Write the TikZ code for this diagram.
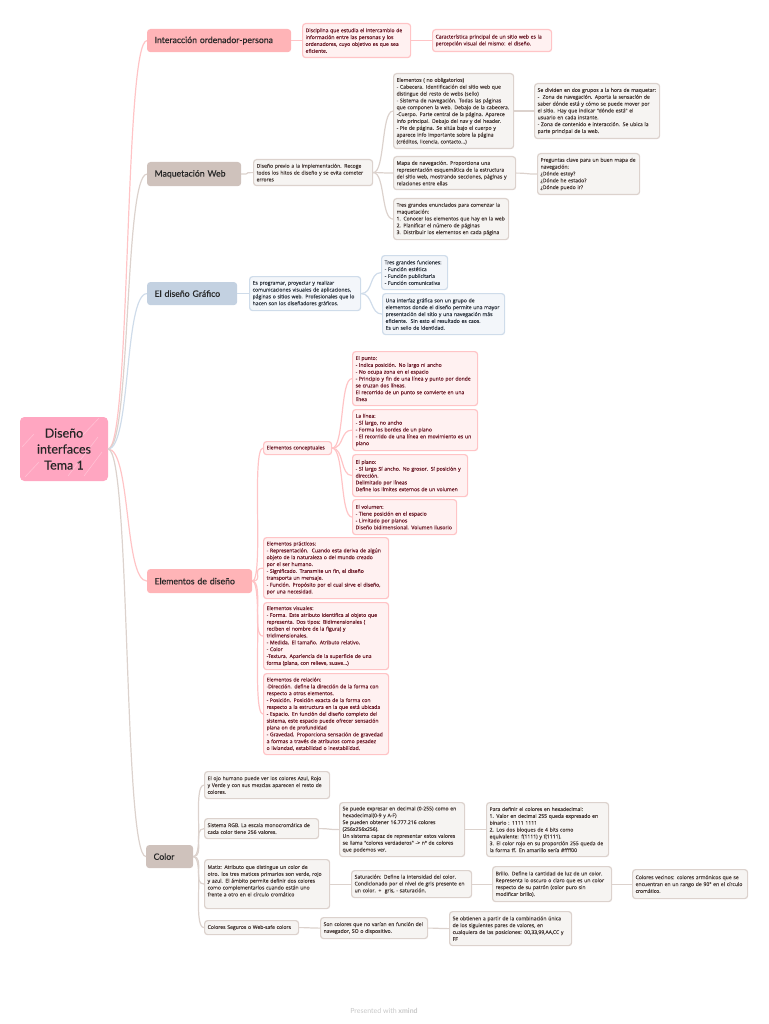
\documentclass[tikz,border=0pt]{standalone}
\usepackage{fontspec}
\setmainfont{Lato}
\newfontfamily\smallfont[FakeBold=0.12]{Open Sans}
\newfontfamily\bigfont[FakeBold=0.25]{Lato}
\definecolor{pinkfill}{HTML}{FFF1F1}
\definecolor{pinkline}{HTML}{FFC4C6}
\definecolor{pinktext}{HTML}{6E1F2C}
\definecolor{pinktopic}{HTML}{FFB4B7}
\definecolor{tanfill}{HTML}{F6F4F2}
\definecolor{tanline}{HTML}{DCD2CD}
\definecolor{tantext}{HTML}{4A3E3A}
\definecolor{tantopic}{HTML}{CFC2BC}
\definecolor{bluefill}{HTML}{F3F6FA}
\definecolor{blueline}{HTML}{CFDCEA}
\definecolor{bluetext}{HTML}{333A44}
\definecolor{bluetopic}{HTML}{C3D1E1}
\definecolor{rootfill}{HTML}{FFA6C1}
\tikzset{
  base/.style={rounded corners=3pt,line width=1.2pt,inner xsep=3pt,inner ysep=0pt,align=left},
  subpink/.style={base,draw=pinkline,fill=pinkfill,text=pinktext,font=\smallfont\fontsize{5.1pt}{6.85pt}\selectfont},
  subtan/.style={base,draw=tanline,fill=tanfill,text=tantext,font=\smallfont\fontsize{5.1pt}{6.85pt}\selectfont},
  subblue/.style={base,draw=blueline,fill=bluefill,text=bluetext,font=\smallfont\fontsize{5.1pt}{6.85pt}\selectfont},
  toppink/.style={base,inner xsep=7pt,draw=pinktopic,fill=pinktopic,text=black!85,font=\bigfont\fontsize{8.7pt}{11pt}\selectfont},
  toptan/.style={base,inner xsep=7pt,draw=tantopic,fill=tantopic,text=black!85,font=\bigfont\fontsize{8.7pt}{11pt}\selectfont},
  topblue/.style={base,inner xsep=7pt,draw=bluetopic,fill=bluetopic,text=black!85,font=\bigfont\fontsize{8.7pt}{11pt}\selectfont},
  rootbox/.style={rounded corners=4pt,draw=rootfill,fill=rootfill,line width=1pt,text=black!85,align=center,inner sep=0pt,font=\bigfont\fontsize{12.5pt}{16pt}\selectfont},
  linkpink/.style={draw=pinkline,line width=1.2pt},
  linktan/.style={draw=tanline,line width=1.2pt},
  linkblue/.style={draw=blueline,line width=1.2pt},
  streak/.style={draw=white,opacity=.3,line width=.6pt},
  mark text/.style={text=black!22,font=\fontsize{7pt}{8pt}\selectfont}
}
\newcommand{\bx}[7]{%
  \pgfmathsetmacro\bxw{#4-#2}%
  \pgfmathsetmacro\bxh{#5-#3}%
  \pgfmathsetmacro\bxt{#4-#2-6}%
  \node[#6,anchor=north west,minimum width=\bxw pt,minimum height=\bxh pt,text width=\bxt pt] (#1) at (#2,#3) {#7};%
}
\newcommand{\lk}[4][12]{\path[#2] (#3.east) .. controls +(#1,0) and +(-#1,0) .. (#4.west);}
\begin{document}
\begin{tikzpicture}[x=1pt,y=-1pt]
\useasboundingbox (0,0) rectangle (768,1024);
% root
\node[rootbox,minimum width=87pt,minimum height=63pt,anchor=north west] (root) at (20,417) {Diseño\\interfaces\\Tema 1};
\path[streak] (25,477) -- (39,462) (68,476) -- (98,437) (84,476) -- (102,452) (82,436) -- (99,418) (22,447) -- (34,434);
% topics
\bx{int}{147}{29}{282}{51}{toppink}{Interacción ordenador-persona}
\bx{maq}{147}{162}{232}{185}{toptan}{Maquetación Web}
\bx{gra}{147}{282}{228}{304}{topblue}{El diseño Gráfico}
\bx{ele}{147}{569}{243}{592}{toppink}{Elementos de diseño}
\bx{col}{146}{845}{184}{867}{toptan}{Color}
% interaccion
\bx{dis}{302}{23}{410}{57}{subpink}{Disciplina que estudia el intercambio de\\información entre las personas y los\\ordenadores, cuyo objetivo es que sea\\eficiente.}
\bx{car}{432}{29}{551}{51}{subpink}{Característica principal de un sitio web es la\\percepción visual del mismo: el diseño.}
% maquetacion
\bx{pre}{253}{159}{372}{185}{subtan}{Diseño previo a la implementación. Recoge\\todos los hitos de diseño y se evita cometer\\errores}
\bx{elm}{393}{73}{513}{148}{subtan}{Elementos ( no obligatorios)\\- Cabecera. Identificación del sitio web que\\distingue del resto de webs (sello)\\- Sistema de navegación. Todas las páginas\\que componen la web. Debajo de la cabecera.\\-Cuerpo. Parte central de la página. Aparece\\info principal. Debajo del nav y del header.\\- Pie de página. Se sitúa bajo el cuerpo y\\aparece info importante sobre la página\\(créditos, licencia, contacto...)}
\bx{sed}{534}{83}{659}{138}{subtan}{Se dividen en dos grupos a la hora de maquetar:\\-\ \ Zona de navegación. Aporta la sensación de\\saber dónde está y cómo se puede mover por\\el sitio. Hay que indicar "dónde está" el\\usuario en cada instante.\\- Zona de contenido e interacción. Se ubica la\\parte principal de la web.}
\bx{map}{393}{156}{515}{189}{subtan}{Mapa de navegación. Proporciona una\\representación esquemática de la estructura\\del sitio web, mostrando secciones, páginas y\\relaciones entre ellas}
\bx{prg}{537}{153}{639}{194}{subtan}{Preguntas clave para un buen mapa de\\navegación:\\¿Dónde estoy?\\¿Dónde he estado?\\¿Dónde puedo ir?}
\bx{tre}{393}{198}{508}{239}{subtan}{Tres grandes enunciados para comenzar la\\maquetación:\\1. Conocer los elementos que hay en la web\\2. Planificar el número de páginas\\3. Distribuir los elementos en cada página}
% grafico
\bx{prog}{249}{276}{360}{310}{subblue}{Es programar, proyectar y realizar\\comunicaciones visuales de aplicaciones,\\páginas o sitios web. Profesionales que lo\\hacen son los diseñadores gráficos.}
\bx{fun}{381}{255}{447}{289}{subblue}{Tres grandes funciones:\\- Función estética\\- Función publicitaria\\- Función comunicativa}
\bx{ifz}{382}{293}{504}{334}{subblue}{Una interfaz gráfica son un grupo de\\elementos donde el diseño permite una mayor\\presentación del sitio y una navegación más\\eficiente.\ \ Sin esto el resultado es caos.\\Es un sello de identidad.}
% elementos
\bx{con}{263}{441}{331}{454}{subpink}{Elementos conceptuales}
\bx{pun}{352}{351}{477}{405}{subpink}{El punto:\\- Indica posición. No largo ni ancho\\- No ocupa zona en el espacio\\- Principio y fin de una línea y punto por donde\\se cruzan dos líneas.\\El recorrido de un punto se convierte en una\\línea}
\bx{lin}{352}{409}{477}{450}{subpink}{La línea:\\- Sí largo, no ancho\\- Forma los bordes de un plano\\- El recorrido de una línea en movimiento es un\\plano}
\bx{pla}{352}{454}{467}{496}{subpink}{El plano:\\- Sí largo Sí ancho. No grosor. Sí posición y\\dirección.\\Delimitado por líneas\\Define los límites externos de un volumen}
\bx{vol}{352}{499}{456}{534}{subpink}{El volumen:\\- Tiene posición en el espacio\\- Limitado por planos\\Diseño bidimensional. Volumen ilusorio}
\bx{pra}{263}{537}{388}{598}{subpink}{Elementos prácticos:\\- Representación.\ \ Cuando esta deriva de algún\\objeto de la naturaleza o del mundo creado\\por el ser humano.\\- Significado. Transmite un fin, el diseño\\transporta un mensaje.\\- Función. Propósito por el cual sirve el diseño,\\por una necesidad.}
\bx{vis}{263}{602}{388}{669}{subpink}{Elementos visuales:\\- Forma. Este atributo identifica al objeto que\\representa. Dos tipos: Bidimensionales (\\reciben el nombre de la figura) y\\tridimensionales.\\- Medida. El tamaño. Atributo relativo.\\- Color\\-Textura. Apariencia de la superficie de una\\forma (plana, con relieve, suave...)}
\bx{rel}{263}{673}{388}{754}{subpink}{Elementos de relación:\\-Dirección. define la dirección de la forma con\\respecto a otros elementos.\\- Posición. Posición exacta de la forma con\\respecto a la estructura en la que está ubicada\\- Espacio. En función del diseño completo del\\sistema, este espacio puede ofrecer sensación\\plana on de profundidad\\- Gravedad. Proporciona sensación de gravedad\\a formas a través de atributos como pesadez\\o liviandad, estabilidad o inestabilidad.}
% color
\bx{ojo}{204}{771}{329}{798}{subtan}{El ojo humano puede ver los colores Azul, Rojo\\y Verde y con sus mezclas aparecen el resto de\\colores.}
\bx{rgb}{204}{818}{318}{838}{subtan}{Sistema RGB. La escala monocromática de\\cada color tiene 256 valores.}
\bx{mat}{204}{859}{329}{908}{subtan}{Matiz: Atributo que distingue un color de\\otro. los tres matices primarios son verde, rojo\\y azul. El ámbito permite definir dos colores\\como complementarios cuando están uno\\frente a otro en el círculo cromático\\~}
\bx{seg}{204}{920}{298}{934}{subtan}{Colores Seguros o Web-safe colors}
\bx{pue}{339}{802}{464}{856}{subtan}{Se puede expresar en decimal (0-255) como en\\hexadecimal(0-9 y A-F)\\Se pueden obtener 16.777.216 colores\\(256x256x256).\\Un sistema capaz de representar estos valores\\se llama "colores verdaderos" -> nº de colores\\que podemos ver.}
\bx{par}{486}{802}{608}{856}{subtan}{Para definir el colores en hexadecimal:\\1. Valor en decimal 255 queda expresado en\\binario : 1111 1111\\2. Los dos bloques de 4 bits como\\equivalente: f(1111) y f(1111).\\3. El color rojo en su proporción 255 queda de\\la forma ff. En amarillo sería \#ffff00}
\bx{sat}{351}{870}{471}{897}{subtan}{Saturación: Define la intensidad del color.\\Condicionado por el nivel de gris presente en\\un color. +\ \ gris, - saturación.}
\bx{bri}{492}{866}{611}{901}{subtan}{Brillo. Define la cantidad de luz de un color.\\Representa lo oscuro o claro que es un color\\respecto de su patrón (color puro sin\\modificar brillo).}
\bx{vec}{632}{869}{747}{898}{subtan}{Colores vecinos: colores armónicos que se\\encuentran en un rango de 90° en el círculo\\cromático.}
\bx{son}{320}{917}{427}{938}{subtan}{Son colores que no varían en función del\\navegador, SO o dispositivo.}
\bx{obt}{449}{911}{571}{945}{subtan}{Se obtienen a partir de la combinación única\\de los siguientes pares de valores, en\\cualquiera de las posiciones: 00,33,99,AA,CC y\\FF}
% watermark
\node[mark text] (wm) at (384,1011) {Presented with \textbf{xmind}};
% trunk connectors
\lk[23]{linkpink}{root}{int}
\lk[23]{linktan}{root}{maq}
\lk[23]{linkblue}{root}{gra}
\lk[23]{linkpink}{root}{ele}
\lk[23]{linktan}{root}{col}
% branch connectors
\lk{linkpink}{int}{dis}
\lk{linkpink}{dis}{car}
\lk{linktan}{maq}{pre}
\lk{linktan}{pre}{elm}
\lk{linktan}{pre}{map}
\lk{linktan}{pre}{tre}
\lk{linktan}{elm}{sed}
\lk{linktan}{map}{prg}
\lk{linkblue}{gra}{prog}
\lk{linkblue}{prog}{fun}
\lk{linkblue}{prog}{ifz}
\lk{linkpink}{ele}{con}
\lk{linkpink}{ele}{pra}
\lk{linkpink}{ele}{vis}
\lk{linkpink}{ele}{rel}
\lk{linkpink}{con}{pun}
\lk{linkpink}{con}{lin}
\lk{linkpink}{con}{pla}
\lk{linkpink}{con}{vol}
\lk{linktan}{col}{ojo}
\lk{linktan}{col}{rgb}
\lk{linktan}{col}{mat}
\lk{linktan}{col}{seg}
\lk{linktan}{rgb}{pue}
\lk{linktan}{pue}{par}
\lk{linktan}{mat}{sat}
\lk{linktan}{sat}{bri}
\lk{linktan}{bri}{vec}
\lk{linktan}{seg}{son}
\lk{linktan}{son}{obt}
\end{tikzpicture}
\end{document}
